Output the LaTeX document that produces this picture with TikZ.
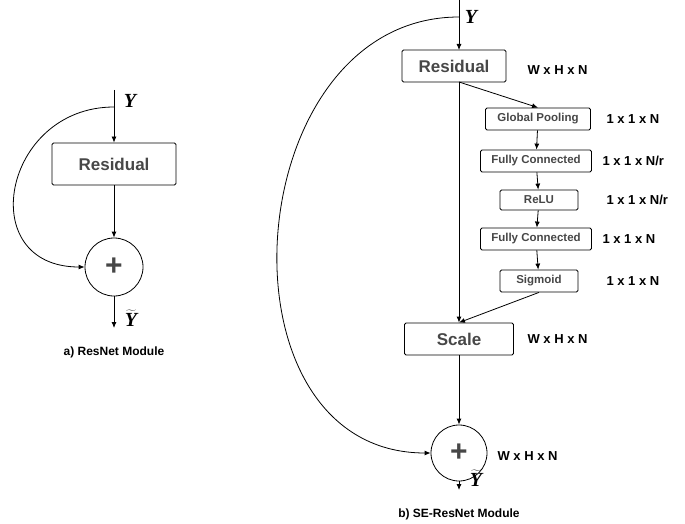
\documentclass[tikz,border=0pt]{standalone}
\usepackage{fontspec}
\setmainfont{Liberation Sans}
\newfontfamily\serifbf{Liberation Serif}
\usetikzlibrary{arrows.meta}
\begin{document}
\begin{tikzpicture}
	[
		x=1pt, y=-1pt,
		font={\bfseries\fontsize{12}{14}\selectfont},
		block/.style={draw, rectangle, rounded corners=1.5, thick, text=black!72, inner sep=0, font={\bfseries\fontsize{17}{19}\selectfont}},
		small/.style={block, font={\bfseries\fontsize{11.5}{13}\selectfont}},
		sumnode/.style={draw, circle, thick, minimum size=58, inner sep=0, font={\bfseries\fontsize{30}{30}\selectfont}, text=black!72},
		arch/.style={-{Latex[length=6pt,width=5pt]}, thick},
		dim/.style={anchor=west, font={\bfseries\fontsize{13}{15}\selectfont}},
		var/.style={font={\serifbf\bfseries\itshape\fontsize{20}{22}\selectfont}},
	]
	\useasboundingbox (0,0) rectangle (685,524);
	% a) ResNet module
	\coordinate (aIn) at (114,90);
	\coordinate (aSplit) at (114,107);
	\node[block, minimum width=124, minimum height=42] (aRes) at (114,164) {Residual};
	\node[sumnode] (aSum) at (114,267) {+};
	\coordinate (aOut) at (114,328);
	\node[var] at (130,101) {Y};
	\node[var] at (131,318) {$\widetilde{\mbox{\serifbf\bfseries\itshape\fontsize{20}{22}\selectfont Y}}$};
	\node at (114,352) {a) ResNet Module};
	\draw[arch] (aIn) -- (aRes);
	\draw[arch] (aRes) -- (aSum);
	\draw[arch] (aSum) -- (aOut);
	\draw[arch] (aSplit) to[out=180, in=180, looseness=1.75] (aSum.west);
	% b) SE-ResNet module
	\coordinate (bIn) at (459,0);
	\coordinate (bSplit) at (459,17);
	\node[block, minimum width=104, minimum height=32] (bRes) at (454,66) {Residual};
	\node[small, minimum width=105, minimum height=22] (gp) at (538,119) {Global Pooling};
	\node[small, minimum width=111, minimum height=22] (fc1) at (536,161) {Fully Connected};
	\node[small, minimum width=78, minimum height=20] (relu) at (539,200) {ReLU};
	\node[small, minimum width=111, minimum height=22] (fc2) at (536,239) {Fully Connected};
	\node[small, minimum width=78, minimum height=22] (sig) at (539,281) {Sigmoid};
	\node[block, minimum width=109, minimum height=32] (scale) at (459,339) {Scale};
	\node[sumnode, minimum size=56] (bSum) at (459,453) {+};
	\coordinate (bOut) at (459,490);
	\node[var] at (471,17) {Y};
	\node[var] at (476,478) {$\widetilde{\mbox{\serifbf\bfseries\itshape\fontsize{20}{22}\selectfont Y}}$};
	\node[dim] at (524,70) {W x H x N};
	\node[dim] at (603,119) {1 x 1 x N};
	\node[dim] at (599,161) {1 x 1 x N/r};
	\node[dim] at (603,200) {1 x 1 x N/r};
	\node[dim] at (599,239) {1 x 1 x N};
	\node[dim] at (603,281) {1 x 1 x N};
	\node[dim] at (524,339) {W x H x N};
	\node[dim] at (494,456) {W x H x N};
	\node at (459,514) {b) SE-ResNet Module};
	\draw[arch] (bIn) -- (459,50);
	\draw[arch] (459,82) -- (gp.north);
	\draw[arch] (gp) -- (fc1);
	\draw[arch] (fc1) -- (relu);
	\draw[arch] (relu) -- (fc2);
	\draw[arch] (fc2) -- (sig);
	\draw[arch] (459,82) -- (scale.north);
	\draw[arch] (sig.south) -- (scale.north);
	\draw[arch] (scale) -- (bSum);
	\draw[arch] (bSum) -- (bOut);
	\draw[arch] (bSplit) to[out=180, in=180, looseness=1.3] (bSum.west);
\end{tikzpicture}
\end{document}
